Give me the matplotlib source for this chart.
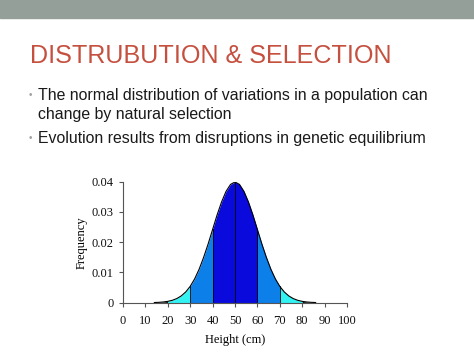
import matplotlib.pyplot as plt
from matplotlib.patches import Rectangle

# Values (height in cm vs. frequency)
heights = [14, 16, 18, 20, 22, 24, 26, 28, 30, 32, 34, 36, 38, 40, 42, 44, 46, 48, 50,
           52, 54, 56, 58, 60, 62, 64, 66, 68, 70, 72, 74, 76, 78, 80, 82, 84, 86]
freqs = [0.00006, 0.00012, 0.00024, 0.00044, 0.00079, 0.00136, 0.00224, 0.00355, 0.0054,
         0.0079, 0.0111, 0.0150, 0.0194, 0.0242, 0.0290, 0.0333, 0.0368, 0.0391, 0.0399,
         0.0391, 0.0368, 0.0333, 0.0290, 0.0242, 0.0194, 0.0150, 0.0111, 0.0079, 0.0054,
         0.00355, 0.00224, 0.00136, 0.00079, 0.00044, 0.00024, 0.00012, 0.00006]

band_edges = [14, 20, 30, 40, 60, 70, 80, 86]
band_colors = ["#111111", "#33F2F2", "#0C7FE8", "#0A0ADC", "#0C7FE8", "#33F2F2", "#111111"]
divider_lines = [30, 40, 50, 60, 70]

title = "DISTRUBUTION & SELECTION"
bullets = [
    ["The normal distribution of variations in a population can",
     "change by natural selection"],
    ["Evolution results from disruptions in genetic equilibrium"],
]

W, H = 474, 355
fig = plt.figure(figsize=(W / 100, H / 100), dpi=100)


def px(x, y):
    return x / W, 1 - y / H


# grey band across the top
fig.patches.append(Rectangle((0, 1 - 18 / H), 1, 18 / H, transform=fig.transFigure,
                             color="#939F98", zorder=0))

fig.text(*px(30, 63), title, color="#C5503F", fontsize=18.1,
         family="Liberation Sans", va="baseline")

baselines = [[100, 119], [143]]
for lines, ys in zip(bullets, baselines):
    fig.text(*px(29, ys[0] - 2), "\u2022", color="#A0A0A0", fontsize=7,
             family="Liberation Sans", va="baseline")
    for line, y in zip(lines, ys):
        fig.text(*px(38, y), line, color="#1A1A1A", fontsize=11.4,
                 family="Liberation Sans", va="baseline")

# chart
ax = fig.add_axes([123 / W, (H - 302.7) / H, (347 - 123) / W, (302.7 - 181.7) / H])
for i, c in enumerate(band_colors):
    lo, hi = band_edges[i], band_edges[i + 1]
    mask = [lo <= h <= hi for h in heights]
    ax.fill_between(heights, 0, freqs, where=mask, color=c, linewidth=0)
ax.plot(heights, freqs, color="black", lw=0.8)
for d in divider_lines:
    ax.plot([d, d], [0, freqs[heights.index(d)]], color="black", lw=0.6)

ax.set_xlim(0, 100)
ax.set_ylim(0, 0.04)
ax.set_xticks(range(0, 101, 10))
ax.set_yticks([0, 0.01, 0.02, 0.03, 0.04])
ax.set_yticklabels(["0", "0.01", "0.02", "0.03", "0.04"])
for s in ["top", "right"]:
    ax.spines[s].set_visible(False)
for s in ["left", "bottom"]:
    ax.spines[s].set_color("#555555")
    ax.spines[s].set_linewidth(0.8)
ax.tick_params(colors="#555555", length=3, width=0.8, labelsize=9, labelcolor="#111111")
for lab in ax.get_xticklabels() + ax.get_yticklabels():
    lab.set_family("Liberation Serif")
ax.tick_params(axis="x", pad=6)
ax.set_xlabel("Height (cm)", family="Liberation Serif", fontsize=9, labelpad=5)
ax.set_ylabel("Frequency", family="Liberation Serif", fontsize=9, labelpad=3)

fig.savefig("out.png", dpi=100)
